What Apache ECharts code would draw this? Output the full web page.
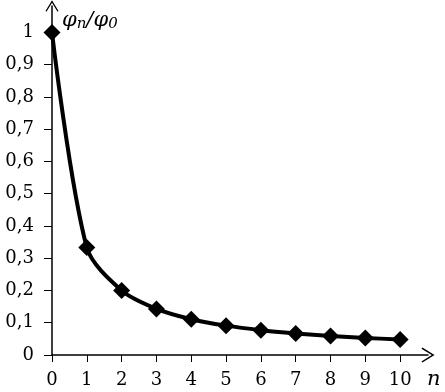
<!DOCTYPE html>
<html><head><meta charset="utf-8">
<script src="https://cdn.jsdelivr.net/npm/echarts@6/dist/echarts.min.js"></script>
<style>html,body{margin:0;padding:0;background:#fff}#c{width:445px;height:392px}</style>
</head><body><div id="c"></div>
<script>
const nValues = [0, 1, 2, 3, 4, 5, 6, 7, 8, 9, 10];
const ratioValues = [1, 0.333, 0.2, 0.143, 0.111, 0.091, 0.077, 0.067, 0.059, 0.053, 0.048];
const xTicks = [0, 1, 2, 3, 4, 5, 6, 7, 8, 9, 10];
const yTicks = [0, 0.1, 0.2, 0.3, 0.4, 0.5, 0.6, 0.7, 0.8, 0.9, 1];

const FONT = 'DejaVu Serif';
const chevron = 'path://M0,13 L8,0 L16,13 L14.8,14 L8,3 L1.2,14 Z';
const chart = echarts.init(document.getElementById('c'));
chart.setOption({
  animation: false,
  grid: {left: 52, right: 17, top: 6, bottom: 37, containLabel: false},
  xAxis: {
    type: 'value', min: 0, max: 10.8,
    splitLine: {show: false},
    axisLine: {show: true, lineStyle: {color: '#000', width: 1.5}, symbol: ['none', chevron], symbolSize: [15, 15], symbolOffset: [0, 0]},
    axisTick: {show: true, inside: false, length: 7, lineStyle: {color: '#000', width: 1}, customValues: xTicks},
    axisLabel: {show: true, margin: 16, color: '#000', fontFamily: FONT, fontSize: 18, customValues: xTicks,
      formatter: v => String(v)}
  },
  yAxis: {
    type: 'value', min: 0, max: 1.082,
    splitLine: {show: false},
    axisLine: {show: true, lineStyle: {color: '#000', width: 1.5}, symbol: ['none', chevron], symbolSize: [13, 12], symbolOffset: [0, 0]},
    axisTick: {show: true, inside: false, length: 8, lineStyle: {color: '#000', width: 1}, customValues: yTicks},
    axisLabel: {show: true, margin: 18, color: '#000', fontFamily: FONT, fontSize: 18, customValues: yTicks,
      formatter: v => String(Math.round(v * 10) / 10).replace('.', ',')}
  },
  graphic: [
    {type: 'text', left: 62, top: 10, style: {
      text: '{a|φ}{s|n}{a|/φ}{s|0}', fill: '#000',
      rich: {
        a: {fontFamily: FONT, fontStyle: 'italic', fontSize: 21, fill: '#000'},
        s: {fontFamily: FONT, fontStyle: 'italic', fontSize: 15, fill: '#000', padding: [7, 0, 0, 0]}
      }}},
    {type: 'text', left: 427, top: 369, style: {text: 'n', fontFamily: FONT, fontStyle: 'italic', fontSize: 21, fill: '#000'}}
  ],
  series: [{
    type: 'line',
    data: nValues.map((n, i) => [n, ratioValues[i]]),
    smooth: 0.3,
    symbol: 'diamond', symbolSize: [17, 17],
    itemStyle: {color: '#000'},
    lineStyle: {color: '#000', width: 4}
  }]
});
</script></body></html>
